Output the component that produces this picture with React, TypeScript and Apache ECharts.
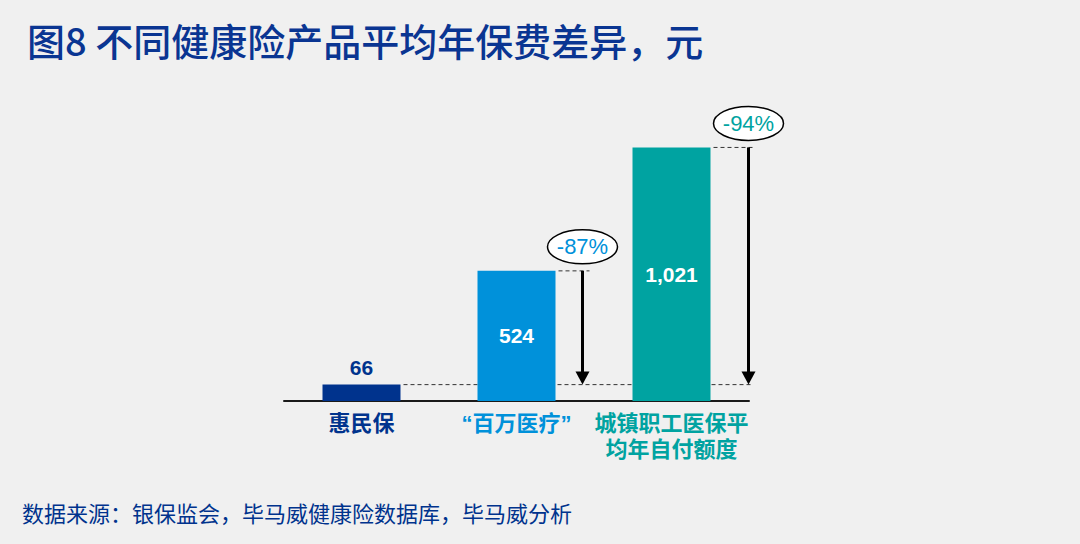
import React, { useEffect, useRef } from 'react';
import * as echarts from 'echarts';

const titleText = '图8 不同健康险产品平均年保费差异，元';
const sourceText = '数据来源：银保监会，毕马威健康险数据库，毕马威分析';
const categories = ['惠民保', '“百万医疗”', '城镇职工医保平\n均年自付额度'];
const premiums = [66, 524, 1021];
const diffLabels = ['', '-87%', '-94%'];

const NAVY = '#00338D';
const BLUE = '#0091DA';
const TEAL = '#00A3A1';
const barColors = [NAVY, BLUE, TEAL];
const CJK = '"Liberation Sans", "Noto Sans CJK SC", sans-serif';
const NUM = '"Liberation Sans", Arial, sans-serif';

export default function App() {
  const ref = useRef<HTMLDivElement>(null);
  useEffect(() => {
    if (!ref.current) return;
    const chart = echarts.init(ref.current, null, { renderer: 'svg' });
    const arrowOffset = [0, 66, 77];
    const halfBar = 39;
    const baseValue = premiums[0];

    const renderItem = (params: any, api: any) => {
      const idx = params.dataIndex;
      const cat = api.value(0);
      const val = api.value(1);
      const top = api.coord([cat, val]);
      const children: any[] = [];
      if (idx === 0) {
        const lastIdx = premiums.length - 1;
        const endX = api.coord([lastIdx, baseValue])[0] + arrowOffset[lastIdx] + 5;
        children.push({
          type: 'line',
          shape: { x1: top[0] + halfBar + 3, y1: top[1], x2: endX, y2: top[1] },
          style: { stroke: '#333', lineWidth: 1, lineDash: [4, 3] },
        });
        return { type: 'group', children };
      }
      const base = api.coord([cat, baseValue]);
      const ax = top[0] + arrowOffset[idx];
      children.push({
        type: 'line',
        shape: { x1: top[0] + halfBar + 3, y1: top[1], x2: ax + 7, y2: top[1] },
        style: { stroke: '#333', lineWidth: 1, lineDash: [4, 3] },
      });
      children.push({
        type: 'line',
        shape: { x1: ax, y1: top[1], x2: ax, y2: base[1] - 12 },
        style: { stroke: '#000', lineWidth: 3 },
      });
      children.push({
        type: 'polygon',
        shape: { points: [[ax - 7, base[1] - 13], [ax + 7, base[1] - 13], [ax, base[1]]] },
        style: { fill: '#000' },
      });
      children.push({
        type: 'ellipse',
        shape: { cx: ax, cy: top[1] - 24, rx: 35, ry: 17 },
        style: { fill: '#fff', stroke: '#000', lineWidth: 1.5 },
      });
      children.push({
        type: 'text',
        style: {
          text: diffLabels[idx],
          x: ax,
          y: top[1] - 24,
          align: 'center',
          verticalAlign: 'middle',
          fill: barColors[idx],
          font: `22px ${NUM}`,
        },
      });
      return { type: 'group', children };
    };

    const option: any = {
      animation: false,
      backgroundColor: '#f0f0f0',
      title: {
        text: titleText,
        left: 22,
        top: 15,
        textStyle: { fontSize: 38, fontWeight: 500, color: '#0A3592', fontFamily: '"Noto Sans CJK SC", sans-serif' },
      },
      graphic: [
        {
          type: 'text',
          left: 22,
          top: 501,
          style: { text: sourceText, fill: NAVY, font: '22px "Noto Sans CJK SC", sans-serif' },
        },
      ],
      grid: { left: 284, right: 331, top: 103, bottom: 143 },
      xAxis: {
        type: 'category',
        data: categories,
        axisLine: { lineStyle: { color: '#1a1a1a', width: 2 } },
        axisTick: { show: false },
        axisLabel: {
          interval: 0,
          margin: 9,
          fontSize: 22,
          fontWeight: 'bold',
          lineHeight: 26,
          fontFamily: CJK,
          color: (_v: any, i: number) => barColors[i],
        },
      },
      yAxis: { type: 'value', min: 0, max: 1200, show: false },
      series: [
        {
          type: 'bar',
          z: 3,
          barWidth: 78,
          data: premiums.map((v, i) => ({
            value: v,
            itemStyle: { color: barColors[i] },
            label: i === 0
              ? { show: true, position: 'top', distance: 7, color: NAVY }
              : { show: true, position: 'inside', color: '#fff' },
          })),
          label: {
            fontSize: 21,
            fontWeight: 'bold',
            fontFamily: NUM,
            formatter: (p: any) => Number(p.value).toLocaleString('en-US'),
          },
        },
        {
          type: 'custom',
          z: 2,
          clip: false,
          silent: true,
          renderItem,
          encode: { x: 0, y: 1 },
          data: premiums.map((v, i) => [i, v]),
        },
      ],
    };
    chart.setOption(option);
    return () => chart.dispose();
  }, []);
  return <div ref={ref} style={{ position: 'fixed', left: 0, top: 0, width: 1080, height: 544 }} />;
}
